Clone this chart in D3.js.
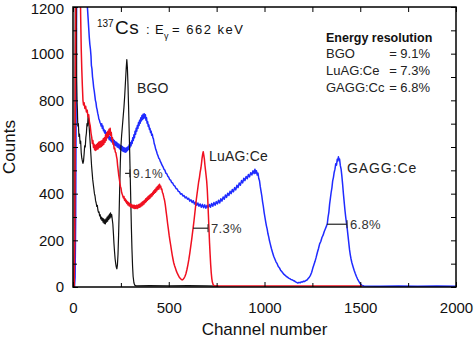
<!DOCTYPE html>
<html>
<head>
<meta charset="utf-8">
<script src="https://cdn.jsdelivr.net/npm/d3@7"></script>
<style>
  html, body { margin: 0; padding: 0; background: #fff; }
  svg { display: block; font-family: "Liberation Sans", Arial, sans-serif; }
</style>
</head>
<body>
<svg id="chart" width="474" height="339"></svg>
<script>
// ---------------- data (channel, counts) ----------------
const xTicks = [0, 500, 1000, 1500, 2000];
const xMinorTicks = [250, 750, 1250, 1750];
const yTicks = [0, 200, 400, 600, 800, 1000, 1200];
const yMinorTicks = [100, 300, 500, 700, 900, 1100];

const bgo = [
[0,0],[5,2],[8,150],[10,600],[12,1300],[17,1300],[19,900],[21,800],[23,760],[25,690],[28,700],[31,645],[34,655],[37,615],[40,625],[43,575],[46,552],[49,540],[52,530],[55,540],[58,570],[61,605],[64,600],[67,640],[70,660],[73,700],[76,690],[79,735],[82,715],[85,680],[88,640],[91,600],[94,560],[97,520],[100,490],[103,460],[106,440],[109,420],[112,400],[115,390],[118,370],[121,360],[124,345],[127,350],[130,330],[133,320],[136,322],[139,305],[142,310],[145,292],[148,300],[151,285],[154,295],[157,278],[160,292],[163,272],[166,288],[169,270],[172,292],[175,278],[178,300],[181,282],[184,305],[187,290],[190,312],[193,295],[196,318],[199,300],[202,310],[205,290],[208,270],[211,230],[214,185],[217,150],[220,120],[223,100],[226,85],[229,78],[232,95],[235,140],[238,220],[241,320],[244,430],[247,530],[250,600],[254,650],[258,690],[262,730],[266,770],[270,820],[274,880],[278,940],[281,975],[284,940],[287,870],[290,780],[293,680],[296,580],[299,470],[302,360],[305,250],[308,160],[311,90],[314,45],[318,18],[322,8],[330,5],[400,6],[500,5],[600,6],[700,5],[760,4]
];

const luag = [
[0,0],[6,2],[9,200],[12,800],[15,1400],[36,1400],[40,1160],[43,1020],[46,930],[49,860],[52,800],[55,780],[58,790],[62,765],[66,775],[70,750],[74,758],[78,730],[82,738],[86,705],[90,690],[94,660],[98,640],[101,615],[104,628],[107,598],[110,612],[113,588],[116,606],[119,585],[122,610],[125,590],[128,615],[131,592],[134,620],[137,598],[140,622],[143,600],[146,625],[149,602],[152,628],[155,608],[158,635],[161,612],[164,640],[167,620],[170,652],[173,628],[176,660],[179,640],[182,668],[185,645],[188,676],[191,655],[194,680],[197,650],[200,662],[203,632],[206,640],[209,612],[212,615],[215,592],[218,595],[221,578],[224,575],[227,560],[230,548],[233,520],[236,500],[239,478],[242,462],[245,445],[248,430],[251,422],[254,405],[257,398],[260,390],[263,382],[266,388],[269,372],[272,378],[275,365],[278,372],[281,358],[284,366],[287,352],[290,362],[293,348],[296,358],[299,345],[302,355],[305,342],[308,352],[311,340],[314,350],[317,338],[320,350],[323,336],[326,348],[329,338],[332,350],[335,336],[338,350],[341,340],[344,354],[347,342],[350,356],[353,344],[356,360],[359,348],[362,364],[365,352],[368,368],[371,356],[374,372],[377,362],[380,378],[383,366],[386,382],[389,372],[392,388],[395,376],[398,392],[401,380],[404,396],[407,386],[410,400],[413,390],[416,406],[419,396],[422,412],[425,402],[428,418],[431,406],[434,424],[437,412],[440,430],[443,418],[446,436],[449,420],[452,440],[455,428],[458,432],[461,418],[464,420],[467,405],[470,400],[474,385],[478,372],[482,352],[486,325],[490,300],[494,272],[498,248],[502,222],[506,200],[510,180],[514,158],[518,138],[522,120],[526,104],[530,92],[535,80],[540,68],[545,58],[550,50],[555,42],[560,37],[565,33],[570,30],[575,33],[580,38],[585,46],[590,58],[595,75],[600,95],[605,118],[610,145],[615,175],[620,205],[624,232],[628,258],[632,285],[636,315],[640,345],[644,375],[648,400],[652,425],[656,450],[660,468],[664,492],[668,510],[671,530],[674,552],[677,568],[680,580],[683,565],[686,548],[689,522],[692,500],[695,478],[698,455],[701,420],[704,370],[707,310],[710,250],[713,190],[716,140],[719,95],[722,60],[725,35],[728,20],[732,10],[738,5],[760,4],[900,4],[1100,4],[1300,4],[1510,4]
];

const gagg = [
[0,0],[8,2],[11,40],[14,300],[17,900],[20,1400],[60,1450],[68,1300],[72,1230],[76,1190],[79,1150],[82,1110],[85,1070],[88,1040],[91,1020],[94,990],[96,950],[99,935],[102,900],[105,880],[108,855],[111,840],[114,820],[117,800],[120,790],[123,770],[126,760],[129,745],[132,735],[135,720],[138,715],[141,705],[144,700],[147,690],[150,700],[153,680],[156,690],[159,670],[162,675],[165,660],[168,670],[171,655],[174,662],[177,650],[180,660],[183,640],[186,650],[189,632],[192,645],[195,628],[198,640],[201,622],[204,635],[207,618],[210,632],[213,612],[216,628],[219,608],[222,622],[225,605],[228,620],[231,600],[234,615],[237,598],[240,612],[243,592],[246,608],[249,590],[252,605],[255,585],[258,602],[261,582],[264,598],[267,580],[270,596],[273,578],[276,595],[279,580],[282,598],[285,585],[288,602],[291,590],[294,610],[297,598],[300,618],[303,605],[306,626],[309,615],[312,640],[315,628],[318,652],[321,640],[324,668],[327,655],[330,680],[333,668],[336,692],[339,680],[342,705],[345,692],[348,715],[351,702],[354,725],[357,712],[360,735],[363,718],[366,740],[369,722],[372,742],[375,725],[378,738],[381,715],[384,725],[387,702],[390,708],[393,688],[396,695],[399,675],[402,680],[405,662],[408,668],[411,650],[414,655],[417,640],[420,635],[424,615],[428,605],[432,590],[436,582],[440,570],[444,562],[448,552],[452,548],[456,538],[460,532],[465,522],[470,515],[475,505],[480,500],[485,488],[490,485],[495,475],[500,470],[505,460],[510,458],[515,448],[520,446],[526,436],[532,432],[538,422],[544,420],[550,410],[556,408],[562,398],[568,400],[574,390],[580,392],[586,382],[592,386],[598,376],[604,380],[610,368],[616,374],[622,362],[628,370],[634,356],[640,364],[646,350],[652,360],[658,346],[664,356],[670,342],[676,354],[682,340],[688,352],[694,338],[700,350],[706,340],[712,354],[718,342],[724,358],[730,346],[736,362],[742,350],[748,366],[754,356],[760,372],[766,360],[772,378],[778,368],[784,386],[790,376],[796,394],[802,384],[808,402],[814,392],[820,410],[826,400],[832,418],[838,408],[844,426],[850,416],[856,436],[862,426],[868,446],[874,436],[880,456],[886,446],[892,466],[898,456],[904,474],[910,464],[916,482],[922,472],[928,490],[934,480],[940,498],[946,486],[950,505],[954,488],[958,498],[962,480],[966,488],[970,465],[974,455],[978,430],[982,410],[986,390],[990,365],[994,345],[998,320],[1002,300],[1006,280],[1010,262],[1014,248],[1018,228],[1022,215],[1026,198],[1030,185],[1036,165],[1042,148],[1048,132],[1054,120],[1060,108],[1066,100],[1072,88],[1078,82],[1084,72],[1090,66],[1096,60],[1102,54],[1108,50],[1114,45],[1120,42],[1126,38],[1132,36],[1138,32],[1144,31],[1150,28],[1156,26],[1162,22],[1168,20],[1174,17],[1180,20],[1186,18],[1192,22],[1198,21],[1204,25],[1210,24],[1216,28],[1222,30],[1228,36],[1234,42],[1240,50],[1246,62],[1252,80],[1258,95],[1264,110],[1270,128],[1276,148],[1282,165],[1288,185],[1294,195],[1300,212],[1306,222],[1312,238],[1318,250],[1324,262],[1328,272],[1332,300],[1336,320],[1340,355],[1344,380],[1348,405],[1352,425],[1356,455],[1360,470],[1364,492],[1368,505],[1372,528],[1376,522],[1380,548],[1383,540],[1386,558],[1389,545],[1392,548],[1396,520],[1400,505],[1404,475],[1408,440],[1412,400],[1416,365],[1420,330],[1424,300],[1428,275],[1432,250],[1436,220],[1440,190],[1444,160],[1448,138],[1452,120],[1456,105],[1462,88],[1468,72],[1474,58],[1480,45],[1486,34],[1492,25],[1498,17],[1504,10],[1510,6],[1520,4],[1600,3],[1700,4],[1800,3],[1900,4],[2000,3]
];

// FWHM markers
const fwhmStart = [272, 627, 1326];
const fwhmEnd = [297, 705, 1431];
const fwhmCounts = [487, 252, 269];
const fwhmLabels = ["9.1%", "7.3%", "6.8%"];

// curve labels
const curveNames = ["BGO", "LuAG:Ce", "GAGG:Ce"];
const curveNameCh = [334, 710, 1431];
const curveNameCounts = [833, 542, 487];

// resolution table
const resNames = ["BGO", "LuAG:Ce", "GAGG:Cc"];
const resValues = ["= 9.1%", "= 7.3%", "= 6.8%"];

// ---------------- chart ----------------
const svg = d3.select("#chart");
const W = 474, H = 339;
const m = { left: 73, right: 18, top: 7, bottom: 52 };
const x = d3.scaleLinear().domain([0, 2000]).range([m.left, W - m.right]);
const y = d3.scaleLinear().domain([0, 1200]).range([H - m.bottom, m.top]);

svg.append("defs").append("clipPath").attr("id", "clip")
  .append("rect").attr("x", m.left).attr("y", m.top)
  .attr("width", x(2000) - x(0)).attr("height", y(0) - y(1200));

const line = d3.line().x(d => x(d[0])).y(d => y(d[1]));
const plot = svg.append("g").attr("clip-path", "url(#clip)");
plot.append("path").datum(gagg).attr("d", line).attr("fill", "none")
  .attr("stroke", "#1f2bff").attr("stroke-width", 1.5).attr("stroke-linejoin", "round");
plot.append("path").datum(bgo).attr("d", line).attr("fill", "none")
  .attr("stroke", "#111").attr("stroke-width", 1.2).attr("stroke-linejoin", "round");
plot.append("path").datum(luag).attr("d", line).attr("fill", "none")
  .attr("stroke", "#f01020").attr("stroke-width", 1.5).attr("stroke-linejoin", "round");

// axes (ticks inward)
function styleAxis(g) {
  g.select(".domain").remove();
  g.selectAll(".tick line").attr("stroke", "#000").attr("stroke-width", 1);
  g.selectAll("text").attr("font-size", 15).attr("fill", "#111")
    .attr("font-family", '"Liberation Sans", Arial, sans-serif');
}
svg.append("g").attr("transform", `translate(0,${y(0)})`)
  .call(d3.axisBottom(x).tickValues(xTicks).tickSizeInner(-5).tickSizeOuter(0).tickPadding(15).tickFormat(d3.format("d")))
  .call(styleAxis);
svg.append("g").attr("transform", `translate(0,${y(0)})`)
  .call(d3.axisBottom(x).tickValues(xMinorTicks).tickSizeInner(-4).tickSizeOuter(0).tickFormat(""))
  .call(styleAxis);
svg.append("g").attr("transform", `translate(0,${y(1200)})`)
  .call(d3.axisTop(x).tickValues(xTicks.concat(xMinorTicks)).tickSizeInner(-5).tickSizeOuter(0).tickFormat(""))
  .call(styleAxis);
const yAxisG = svg.append("g").attr("transform", `translate(${x(0)},0)`)
  .call(d3.axisLeft(y).tickValues(yTicks).tickSizeInner(-5).tickSizeOuter(0).tickPadding(9).tickFormat(d3.format("d")))
  .call(styleAxis);
// keep the top label inside the picture
yAxisG.selectAll(".tick text").filter(d => d === 1200).attr("dy", "0.42em");
svg.append("g").attr("transform", `translate(${x(0)},0)`)
  .call(d3.axisLeft(y).tickValues(yMinorTicks).tickSizeInner(-4).tickSizeOuter(0).tickFormat(""))
  .call(styleAxis);
svg.append("g").attr("transform", `translate(${x(2000)},0)`)
  .call(d3.axisRight(y).tickValues(yTicks.concat(yMinorTicks)).tickSizeInner(-5).tickSizeOuter(0).tickFormat(""))
  .call(styleAxis);

// frame
svg.append("rect").attr("x", x(0)).attr("y", y(1200))
  .attr("width", x(2000) - x(0)).attr("height", y(0) - y(1200))
  .attr("fill", "none").attr("stroke", "#000").attr("stroke-width", 1.5);

// axis titles
svg.append("text").attr("x", (x(0) + x(2000)) / 2).attr("y", 335)
  .attr("text-anchor", "middle").attr("font-size", 17).attr("fill", "#111")
  .text("Channel number");
svg.append("text").attr("transform", `translate(15,${(y(0) + y(1200)) / 2}) rotate(-90)`)
  .attr("text-anchor", "middle").attr("font-size", 17).attr("fill", "#111")
  .text("Counts");

// FWHM markers
fwhmLabels.forEach((lab, i) => {
  const x0 = x(fwhmStart[i]), x1 = x(fwhmEnd[i]), yy = y(fwhmCounts[i]);
  svg.append("line").attr("x1", x0).attr("x2", x1).attr("y1", yy).attr("y2", yy)
    .attr("stroke", "#222").attr("stroke-width", 1.2);
  svg.append("line").attr("x1", x1).attr("x2", x1).attr("y1", yy - 4).attr("y2", yy + 4)
    .attr("stroke", "#222").attr("stroke-width", 1);
  svg.append("text").attr("x", x1 + 3).attr("y", yy + 5)
    .attr("font-size", i === 0 ? 12 : 13).attr("fill", "#333")
    .attr("letter-spacing", i === 0 ? 0.8 : 0.3).text(lab);
});

// curve names
curveNames.forEach((n, i) => {
  svg.append("text").attr("x", x(curveNameCh[i])).attr("y", y(curveNameCounts[i]))
    .attr("font-size", 14).attr("fill", "#222")
    .attr("letter-spacing", i === 2 ? 0.9 : 0.2).text(n);
});

// title: 137Cs : Eγ = 662 keV
const t = svg.append("g").attr("fill", "#111");
t.append("text").attr("x", 97).attr("y", 27).attr("font-size", 10).text("137");
t.append("text").attr("x", 115).attr("y", 34).attr("font-size", 19).attr("letter-spacing", 0.5).text("Cs");
t.append("text").attr("x", 146).attr("y", 34).attr("font-size", 13).text(":");
t.append("text").attr("x", 155).attr("y", 34).attr("font-size", 13).text("E");
t.append("text").attr("x", 164).attr("y", 39).attr("font-size", 9).text("γ");
t.append("text").attr("x", 172).attr("y", 34).attr("font-size", 13)
  .attr("textLength", 71).attr("lengthAdjust", "spacing").text("= 662 keV");

// resolution table
svg.append("text").attr("x", 326).attr("y", 42).attr("font-size", 12.5)
  .attr("font-weight", "bold").attr("fill", "#111").text("Energy resolution");
resNames.forEach((n, i) => {
  const yy = 58 + i * 17;
  svg.append("text").attr("x", 326).attr("y", yy).attr("font-size", 13).attr("fill", "#222").text(n);
  svg.append("text").attr("x", 430).attr("y", yy).attr("font-size", 13).attr("fill", "#222")
    .attr("text-anchor", "end").text(resValues[i]);
});
</script>
</body>
</html>
